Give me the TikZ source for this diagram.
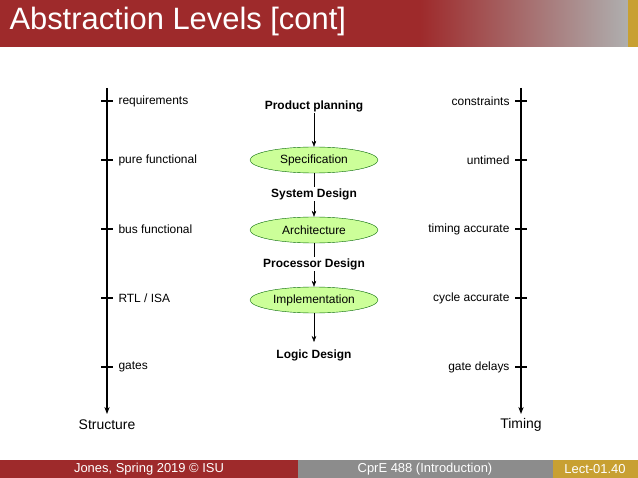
\documentclass[tikz,border=0pt]{standalone}
\usepackage{fontspec}
\setmainfont{Liberation Sans}
\usetikzlibrary{shapes.geometric,arrows.meta}
\definecolor{barred}{HTML}{9E2A2B}
\definecolor{bargray}{HTML}{8C8C8C}
\definecolor{bargold}{HTML}{C8A032}
\definecolor{stagegreen}{HTML}{CCFF99}
\begin{document}
\begin{tikzpicture}[x=1bp,y=-1bp,font=\fontsize{12}{14}\selectfont]
    % --- DEFINE STYLES ---
    \tikzset{stage/.style={ellipse, draw=green!40!black, fill=stagegreen, minimum width=128bp, minimum height=26bp, inner sep=0pt}}
    \tikzset{phase/.style={fill=white, font=\fontsize{12}{14}\selectfont\bfseries, inner sep=1pt}}
    \tikzset{axis/.style={line width=1.6bp, -{Stealth[length=7bp]}}}
    \tikzset{flow/.style={-{Stealth[length=6bp]}}}
    \useasboundingbox (0,0) rectangle (638,478);

    % title and footer bars
    \fill[barred] (0,0) rectangle (420,47);
    \shade[left color=barred, right color=bargray!70] (420,0) rectangle (628,47);
    \fill[bargold] (628,0) rectangle (638,47);
    \node[anchor=west, white, font=\fontsize{31}{34}\selectfont] (title) at (6,22) {Abstraction Levels [cont]};
    \fill[barred] (0,460) rectangle (298,478);
    \fill[bargray] (298,460) rectangle (553,478);
    \fill[bargold] (553,460) rectangle (638,478);
    \node[white, font=\fontsize{13}{15}\selectfont] (who) at (149,469) {Jones, Spring 2019 © ISU};
    \node[white, font=\fontsize{13}{15}\selectfont] (course) at (425,469) {CprE 488 (Introduction)};
    \node[white, font=\fontsize{13}{15}\selectfont] (lect) at (595,469) {Lect-01.40};

    % axes
    \coordinate (ltop) at (107,88);
    \coordinate (lbot) at (107,414);
    \coordinate (rtop) at (521,88);
    \coordinate (rbot) at (521,414);
    \draw[axis] (ltop) -- (lbot);
    \draw[axis] (rtop) -- (rbot);
    \node (structure) at (107,425) {\fontsize{14}{16}\selectfont Structure};
    \node (timing) at (521,425) {\fontsize{14}{16}\selectfont Timing};
    \foreach \y/\s/\t [count=\i] in {101/requirements/constraints, 160/pure functional/untimed,
        229/bus functional/timing accurate, 298/{RTL / ISA}/cycle accurate, 367/gates/gate delays} {
        \draw[line width=1.6bp] (101,\y) -- (113,\y);
        \draw[line width=1.6bp] (515,\y) -- (527,\y);
        \node[anchor=west] (s\i) at (115,\y) {\s};
        \node[anchor=east] (t\i) at (513,\y) {\t};
    }

    % design flow
    \node[phase] (plan) at (314,106) {Product planning};
    \node[stage] (spec) at (314,160) {Specification};
    \node[stage] (arch) at (314,230) {Architecture};
    \node[stage] (impl) at (314,300) {Implementation};
    \coordinate (logic) at (314,342);
    \draw[flow] (plan) -- (spec);
    \draw[flow] (spec) -- (arch);
    \draw[flow] (arch) -- (impl);
    \draw[flow] (impl) -- (logic);
    \node[phase] (sysd) at (314,194) {System Design};
    \node[phase] (procd) at (314,264) {Processor Design};
    \node[phase] (logd) at (314,355) {Logic Design};
\end{tikzpicture}
\end{document}
